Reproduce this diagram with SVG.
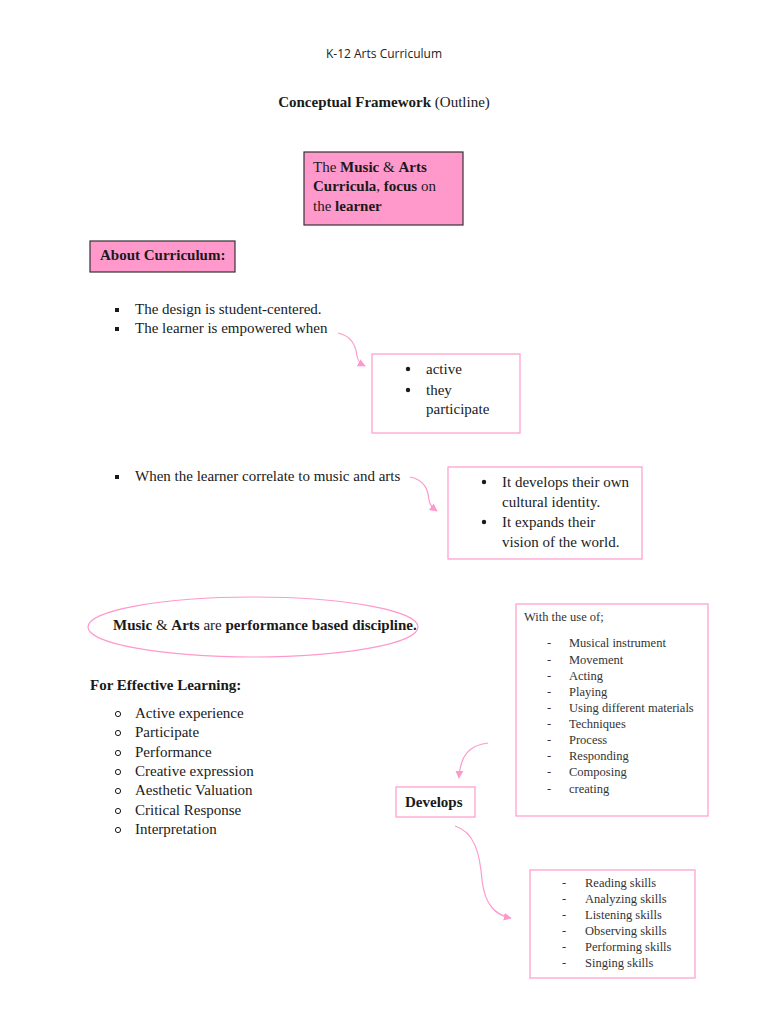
<svg xmlns="http://www.w3.org/2000/svg" width="768" height="1024" viewBox="0 0 768 1024">
<defs>
<style>
.t{font-family:"Liberation Serif","Times New Roman",serif;font-size:15px;fill:#1a1a1a}
.s{font-family:"Liberation Serif","Times New Roman",serif;font-size:12.5px;fill:#333}
.b{font-weight:bold}
.pk{fill:#ff99cc;stroke:#333;stroke-width:1.2}
.pb{fill:#fff;stroke:#ff99cc;stroke-width:1.2}
.ar{fill:none;stroke:#ff99cc;stroke-width:1.2;marker-end:url(#ah)}
</style>
<marker id="ah" viewBox="0 0 10 10" refX="9" refY="5" markerWidth="8" markerHeight="8" orient="auto" markerUnits="userSpaceOnUse">
<path d="M0,0 L10,5 L0,10 z" fill="#ff99cc"/>
</marker>
</defs>
<rect width="768" height="1024" fill="#fff"/>
<text x="384" y="58" text-anchor="middle" font-family="'Open Sans','Liberation Sans',sans-serif" font-size="12" fill="#222">K-12 Arts Curriculum</text>
<text x="384" y="107" text-anchor="middle" class="t"><tspan class="b">Conceptual Framework</tspan> (Outline)</text>

<g id="focus">
<rect x="304" y="152" width="159" height="73" class="pk"/>
<text class="t" x="313" y="172">The <tspan class="b">Music</tspan> &amp; <tspan class="b">Arts</tspan></text>
<text class="t" x="313" y="191"><tspan class="b">Curricula</tspan>, <tspan class="b">focus</tspan> on</text>
<text class="t" x="313" y="211">the <tspan class="b">learner</tspan></text>
</g>

<g id="about">
<rect x="90" y="241" width="145" height="31" class="pk"/>
<text class="t b" x="100" y="260">About Curriculum:</text>
</g>

<g id="bullets1">
<rect x="115" y="308" width="4" height="4" fill="#1a1a1a"/>
<text class="t" x="135" y="314">The design is student-centered.</text>
<rect x="115" y="327" width="4" height="4" fill="#1a1a1a"/>
<text class="t" x="135" y="333">The learner is empowered when</text>
<rect x="115" y="475" width="4" height="4" fill="#1a1a1a"/>
<text class="t" x="135" y="481">When the learner correlate to music and arts</text>
</g>

<g id="empowered">
<rect x="372" y="354" width="148" height="79" class="pb"/>
<circle cx="408" cy="369" r="2.2" fill="#1a1a1a"/>
<text class="t" x="426" y="374">active</text>
<circle cx="408" cy="390" r="2.2" fill="#1a1a1a"/>
<text class="t" x="426" y="395">they</text>
<text class="t" x="426" y="414">participate</text>
</g>

<g id="correlate">
<rect x="448" y="467" width="194" height="92" class="pb"/>
<circle cx="484" cy="482" r="2.2" fill="#1a1a1a"/>
<text class="t" x="502" y="487">It develops their own</text>
<text class="t" x="502" y="507">cultural identity.</text>
<circle cx="484" cy="522" r="2.2" fill="#1a1a1a"/>
<text class="t" x="502" y="527">It expands their</text>
<text class="t" x="502" y="547">vision of the world.</text>
</g>

<g id="performance">
<ellipse cx="253" cy="627" rx="165" ry="30" class="pb"/>
<text class="t" x="113" y="630"><tspan class="b">Music</tspan> &amp; <tspan class="b">Arts</tspan> are <tspan class="b">performance based discipline.</tspan></text>
</g>

<g id="effective">
<text class="t b" x="90" y="690" font-size="16">For Effective Learning:</text>
<g fill="none" stroke="#1a1a1a" stroke-width="1">
<circle cx="118" cy="714" r="2.6"/>
<circle cx="118" cy="733" r="2.6"/>
<circle cx="118" cy="753" r="2.6"/>
<circle cx="118" cy="772" r="2.6"/>
<circle cx="118" cy="791" r="2.6"/>
<circle cx="118" cy="811" r="2.6"/>
<circle cx="118" cy="830" r="2.6"/>
</g>
<text class="t" x="135" y="718">Active experience</text>
<text class="t" x="135" y="737">Participate</text>
<text class="t" x="135" y="757">Performance</text>
<text class="t" x="135" y="776">Creative expression</text>
<text class="t" x="135" y="795">Aesthetic Valuation</text>
<text class="t" x="135" y="815">Critical Response</text>
<text class="t" x="135" y="834">Interpretation</text>
</g>

<g id="use">
<rect x="516" y="604" width="192" height="212" class="pb"/>
<text class="s" x="524" y="621">With the use of;</text>
<g class="s">
<text x="547" y="647">-</text><text x="569" y="647">Musical instrument</text>
<text x="547" y="664">-</text><text x="569" y="664">Movement</text>
<text x="547" y="680">-</text><text x="569" y="680">Acting</text>
<text x="547" y="696">-</text><text x="569" y="696">Playing</text>
<text x="547" y="712">-</text><text x="569" y="712">Using different materials</text>
<text x="547" y="728">-</text><text x="569" y="728">Techniques</text>
<text x="547" y="744">-</text><text x="569" y="744">Process</text>
<text x="547" y="760">-</text><text x="569" y="760">Responding</text>
<text x="547" y="776">-</text><text x="569" y="776">Composing</text>
<text x="547" y="793">-</text><text x="569" y="793">creating</text>
</g>
</g>

<g id="develops">
<rect x="396" y="787" width="79" height="30" class="pb"/>
<text class="t b" x="405" y="807">Develops</text>
</g>

<g id="skills">
<rect x="530" y="870" width="165" height="108" class="pb"/>
<g class="s">
<text x="562" y="887">-</text><text x="585" y="887">Reading skills</text>
<text x="562" y="903">-</text><text x="585" y="903">Analyzing skills</text>
<text x="562" y="919">-</text><text x="585" y="919">Listening skills</text>
<text x="562" y="935">-</text><text x="585" y="935">Observing skills</text>
<text x="562" y="951">-</text><text x="585" y="951">Performing skills</text>
<text x="562" y="967">-</text><text x="585" y="967">Singing skills</text>
</g>
</g>

<g id="connectors">
<path class="ar" d="M338,333 C352,336 356,346 357,356 C358,362 361,364 365,366"/>
<path class="ar" d="M410,477 C425,480 428,490 429,500 C430,506 433,508 437,511"/>
<path class="ar" d="M488,743 C470,745 460,755 459,778"/>
<path class="ar" d="M455,826 C475,832 480,855 482,880 C485,905 495,915 511,918"/>
</g>
</svg>
